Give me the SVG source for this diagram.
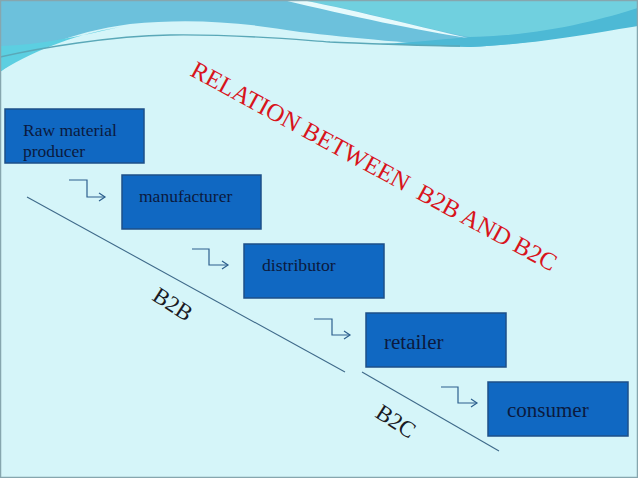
<svg xmlns="http://www.w3.org/2000/svg" width="638" height="478" viewBox="0 0 638 478">
<defs>
<style>
.box{fill:#1068c2;stroke:#1d4f88;stroke-width:1.5}
.lbl{font-family:"Liberation Serif","Times New Roman",serif;fill:#0b1a3e}
.conn{fill:none;stroke:#2d5f8e;stroke-width:1.2}
.div{stroke:#3f6a8a;stroke-width:1.1}
.side{font-family:"Liberation Serif","Times New Roman",serif;font-size:23px;fill:#1a1a24;text-anchor:middle}
</style>
<marker id="ah" markerWidth="10" markerHeight="10" refX="7" refY="5" orient="auto" markerUnits="userSpaceOnUse">
<path d="M1,1 L7,5 L1,9" fill="none" stroke="#2d5f8e" stroke-width="1.2"/>
</marker>
</defs>
<!-- background -->
<rect x="0" y="0" width="638" height="478" fill="#d5f5f9"/>
<path d="M0,0 H638 V24 C600,30 540,44 470,47 C420,44 350,38 300,32 C240,22 190,18 130,24 C70,32 25,52 0,72 Z" fill="#6cc1dc"/>
<path d="M0,46 C40,45 80,36 120,27 C70,35 25,55 0,72 Z" fill="#5ccfe1"/>
<path d="M300,0 H638 V8 C600,22 540,36 470,37 C420,28 360,10 300,0 Z" fill="#70d0df"/>
<path d="M470,37 C540,36 600,20 638,8 V26 C600,32 540,44 470,47 C440,46 410,45 380,44 C420,42 445,39 470,37 Z" fill="#4db9d5"/>
<path d="M283,0 H302 C362,12 425,28 468,38 C420,31 350,16 283,0 Z" fill="#e6fafc"/>
<path d="M0,57 C40,48 110,36 170,35 C240,34 300,40 330,42 C380,44 420,46 460,46" fill="none" stroke="#5aa8b8" stroke-width="1.3"/>
<rect x="0.5" y="0.5" width="637" height="477" fill="none" stroke="#86a6ae" stroke-width="1.5"/>

<!-- title -->
<g id="title" transform="translate(189,75) rotate(28.5)">
<text x="0" y="0" xml:space="preserve" font-family="'Liberation Serif','Times New Roman',serif" font-size="24.7" fill="#d8141c">RELATION BETWEEN  B2B AND B2C</text>
</g>

<!-- connectors -->
<g id="connectors">
<path class="conn" d="M69,180 H87 V197 H105" marker-end="url(#ah)"/>
<path class="conn" d="M192,249 H209 V265 H228" marker-end="url(#ah)"/>
<path class="conn" d="M314,319 H332 V335 H350" marker-end="url(#ah)"/>
<path class="conn" d="M441,387 H458 V403 H477" marker-end="url(#ah)"/>
<line class="div" x1="27" y1="197" x2="345" y2="372"/>
<line class="div" x1="362" y1="372" x2="499" y2="451"/>
</g>

<g id="b2b-label" transform="translate(173,304) rotate(33)">
<text class="side" x="0" y="8">B2B</text>
</g>
<g id="b2c-label" transform="translate(396,421) rotate(33)">
<text class="side" x="0" y="8">B2C</text>
</g>

<!-- nodes -->
<g id="raw-material-producer">
<rect class="box" x="5" y="109" width="139" height="54"/>
<text class="lbl" x="23" y="136" font-size="17.5">Raw material</text>
<text class="lbl" x="23" y="157" font-size="17.5">producer</text>
</g>
<g id="manufacturer">
<rect class="box" x="122" y="175" width="139" height="54"/>
<text class="lbl" x="139" y="202" font-size="17.5">manufacturer</text>
</g>
<g id="distributor">
<rect class="box" x="244" y="244" width="140" height="54"/>
<text class="lbl" x="262" y="271" font-size="17.7">distributor</text>
</g>
<g id="retailer">
<rect class="box" x="366" y="313" width="140" height="54"/>
<text class="lbl" x="384" y="349" font-size="21">retailer</text>
</g>
<g id="consumer">
<rect class="box" x="488" y="382" width="140" height="54"/>
<text class="lbl" x="507" y="417" font-size="21">consumer</text>
</g>
</svg>
